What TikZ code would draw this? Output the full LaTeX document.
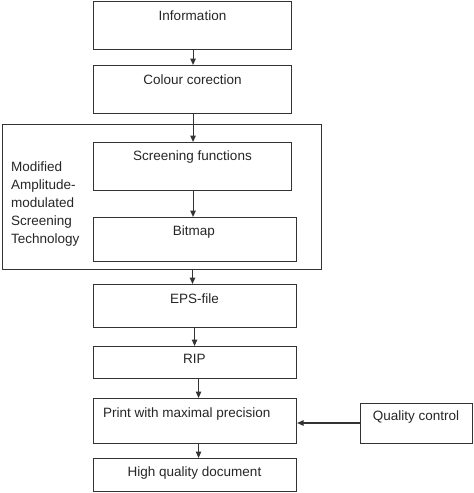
\documentclass[tikz,border=0pt]{standalone}
\usepackage{fontspec}
\setmainfont{Liberation Sans}
\usetikzlibrary{arrows.meta,calc}
\begin{document}
\begin{tikzpicture}[x=1pt,y=1pt,
  line/.style={draw=black!80, line width=1.1pt},
  box/.style={line, rectangle, inner sep=0pt, anchor=north west},
  lbl/.style={inner sep=0pt, text=black!85, font=\fontsize{13.5}{18}\selectfont},
  arr/.style={line, -{Triangle[length=6.5pt,width=5.5pt]}}]
\useasboundingbox (0,0) rectangle (474,-493);
% outer group box
\node[box, minimum width=319pt, minimum height=145pt] (group) at (2,-124) {};
% boxes
\node[box, minimum width=198pt, minimum height=48pt] (info) at (93,-1) {};
\node[box, minimum width=198pt, minimum height=48pt] (colour) at (93,-65) {};
\node[box, minimum width=198pt, minimum height=48pt] (screen) at (93,-142) {};
\node[box, minimum width=203pt, minimum height=44pt] (bitmap) at (93,-217) {};
\node[box, minimum width=203pt, minimum height=43pt] (eps) at (93,-284) {};
\node[box, minimum width=203pt, minimum height=32pt] (rip) at (93,-346) {};
\node[box, minimum width=203pt, minimum height=45pt] (print) at (93,-398) {};
\node[box, minimum width=112pt, minimum height=40pt] (qc) at (360,-403) {};
\node[box, minimum width=203pt, minimum height=33pt] (hqd) at (93,-458) {};
% labels
\node[lbl, anchor=base] (tinfo) at (192.5,-20) {Information};
\node[lbl, anchor=base] (tcolour) at (192.5,-84) {Colour corection};
\node[lbl, anchor=base] (tscreen) at (192.5,-160) {Screening functions};
\node[lbl, anchor=base] (tbitmap) at (194,-235) {Bitmap};
\node[lbl, anchor=base] (teps) at (194.5,-303) {EPS-file};
\node[lbl, anchor=base] (trip) at (194.5,-363) {RIP};
\node[lbl, anchor=base west] (tprint) at (103,-417) {Print with maximal precision};
\node[lbl, anchor=base] (tqc) at (416,-420) {Quality control};
\node[lbl, anchor=base] (thqd) at (194.5,-476.5) {High quality document};
\node[lbl, anchor=north west, align=left] (tgroup) at (11,-161.5)
  {Modified\\Amplitude-\\modulated\\Screening\\Technology};
% connector anchors
\coordinate (a1) at ($(info.south)+(0.5,0)$);
\coordinate (a2) at ($(colour.south)+(0.5,0)$);
\coordinate (a3) at ($(screen.south)+(0.5,0)$);
\coordinate (a4) at ($(group.south west)+(190.5,0)$);
\coordinate (a5) at ($(eps.south)+(-0.5,0)$);
\coordinate (a6) at ($(rip.south)+(3.5,0)$);
\coordinate (a7) at ($(print.south)+(3.5,0)$);
% connectors
\draw[arr] (a1) -- (a1 |- colour.north);
\draw[arr] (a2) -- (a2 |- screen.north);
\draw[arr] (a3) -- (a3 |- bitmap.north);
\draw[arr] (a4) -- (a4 |- eps.north);
\draw[arr] (a5) -- (a5 |- rip.north);
\draw[arr] (a6) -- (a6 |- print.north);
\draw[arr] (a7) -- (a7 |- hqd.north);
\draw[arr] (qc.west |- 0,-423) -- (print.east |- 0,-423);
\end{tikzpicture}
\end{document}
